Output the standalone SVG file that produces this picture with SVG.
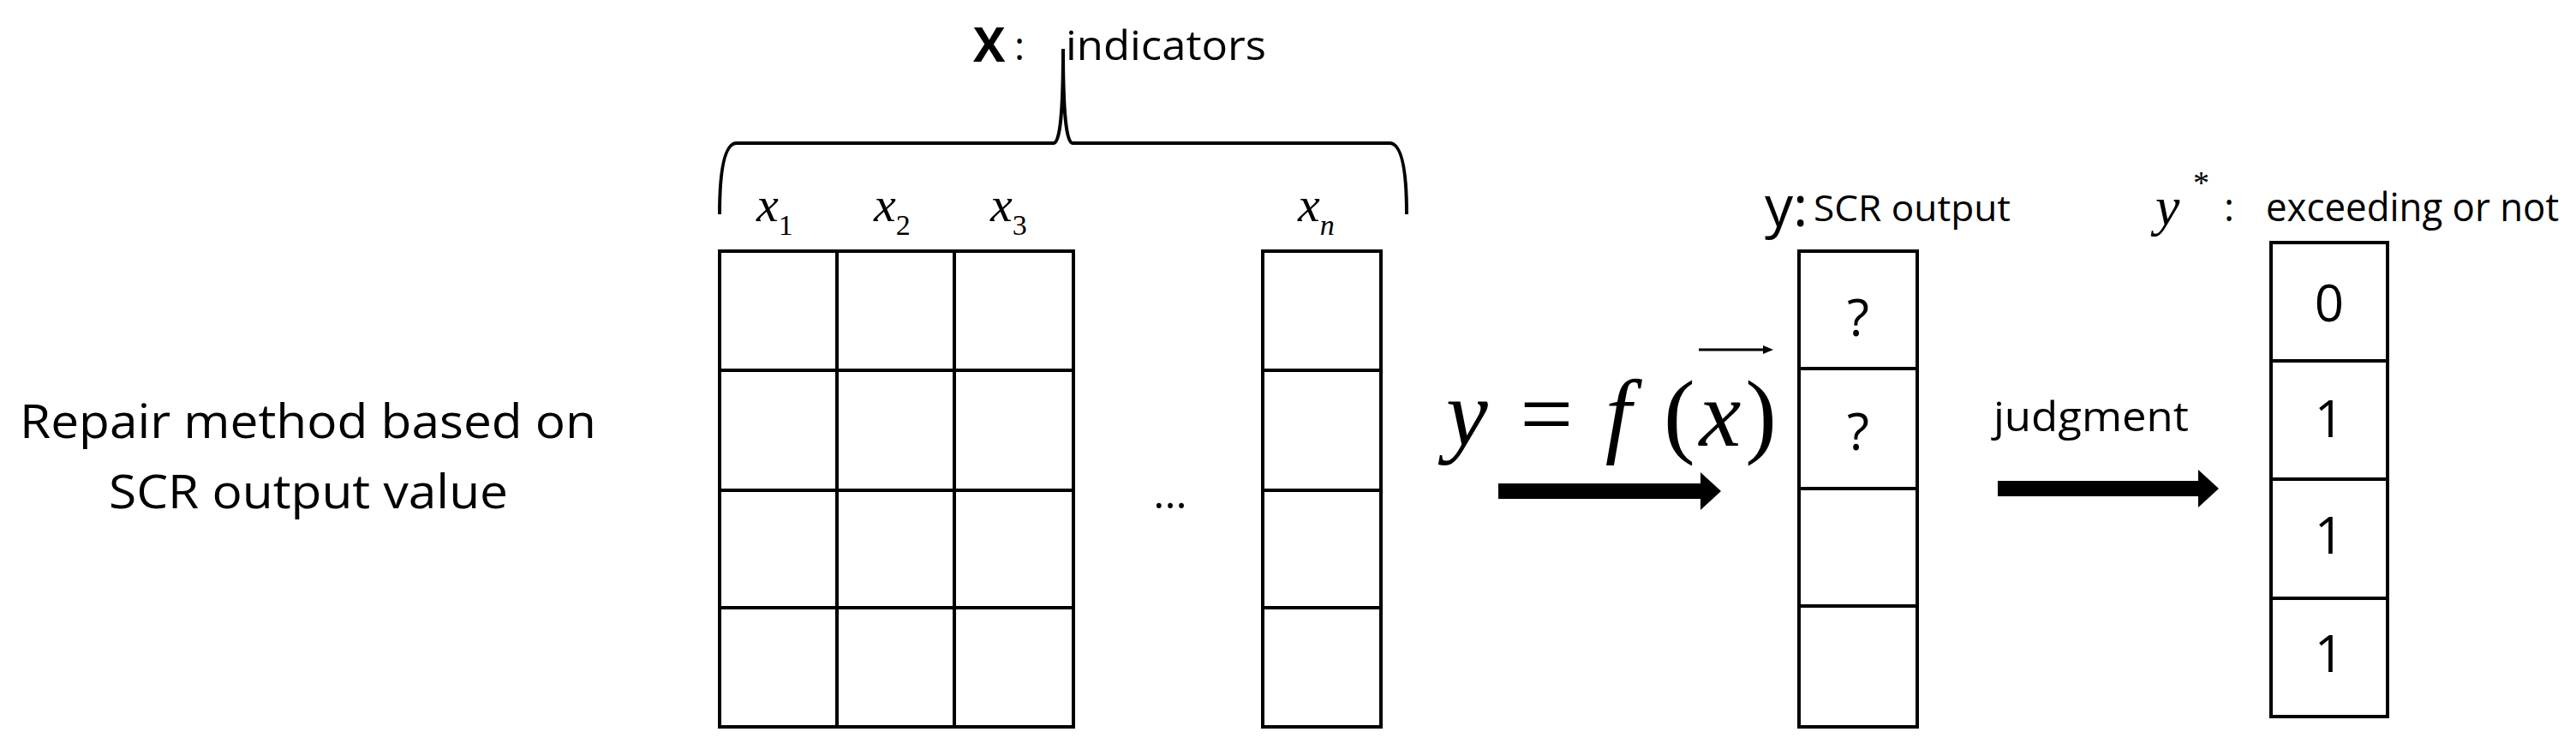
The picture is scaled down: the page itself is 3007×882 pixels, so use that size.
<svg xmlns="http://www.w3.org/2000/svg" width="3007" height="882" viewBox="0 0 3007 882">
<style>
.c{fill:none;stroke:#000;stroke-width:4}
.s{font-family:"Open Sans","Liberation Sans",sans-serif;fill:#000}
.m{font-family:"Liberation Serif",serif;font-style:italic;fill:#000}
.r{font-family:"Liberation Serif",serif;fill:#000}
</style>
<rect width="3007" height="882" fill="#fff"/>
<g id="title"><text class="s" x="23" y="511" font-size="54" textLength="673" lengthAdjust="spacingAndGlyphs">Repair method based on</text><text class="s" x="127" y="593" font-size="54" textLength="466" lengthAdjust="spacingAndGlyphs">SCR output value</text></g>
<g id="xlabel">
<text class="s" x="1136" y="72" font-size="56" font-weight="bold">X</text><text class="s" x="1184" y="70" font-size="46">:</text>
<text class="s" x="1244" y="70" font-size="48" textLength="234" lengthAdjust="spacingAndGlyphs">indicators</text>
<path class="c" d="M840,250 Q840,167 860,167 L1230,167 Q1241,167 1241,57 Q1241,167 1252,167 L1622,167 Q1642,167 1642,250" stroke-width="3.5"/>
<text class="m" x="883" y="258" font-size="58">x<tspan font-size="34" dy="16" font-style="normal">1</tspan></text>
<text class="m" x="1020" y="258" font-size="58">x<tspan font-size="34" dy="16" font-style="normal">2</tspan></text>
<text class="m" x="1156" y="258" font-size="58">x<tspan font-size="34" dy="16" font-style="normal">3</tspan></text>
<text class="m" x="1515" y="258" font-size="58">x<tspan font-size="34" dy="16">n</tspan></text>
</g>
<g id="matrix">
<rect class="c" x="840" y="293" width="413" height="555"/>
<path class="c" d="M977,293V848M1114,293V848M840,432H1253M840,572H1253M840,709H1253"/>
<rect class="c" x="1474" y="293" width="138" height="555"/>
<path class="c" d="M1474,432H1612M1474,572H1612M1474,709H1612"/>
<text class="s" x="1366" y="593" font-size="50" text-anchor="middle">...</text>
</g>
<g id="ycol">
<text class="s" x="2060" y="264" font-size="66">y:</text><text class="s" x="2117" y="258" font-size="42" textLength="230" lengthAdjust="spacingAndGlyphs">SCR output</text>
<rect class="c" x="2100" y="293" width="138" height="555"/>
<path class="c" d="M2100,430H2238M2100,570H2238M2100,707H2238"/>
<text class="s" x="2169" y="392" font-size="60" text-anchor="middle">?</text>
<text class="s" x="2169" y="525" font-size="60" text-anchor="middle">?</text>
</g>
<g id="ystar">
<text class="m" x="2516" y="262" font-size="64">y</text><text class="r" x="2560" y="226" font-size="38">*</text>
<text class="s" x="2596" y="258" font-size="46">:</text>
<text class="s" x="2645" y="258" font-size="46" textLength="342" lengthAdjust="spacingAndGlyphs">exceeding or not</text>
<rect class="c" x="2651" y="283" width="136" height="553"/>
<path class="c" d="M2651,421H2787M2651,559H2787M2651,698H2787"/>
<text class="s" x="2719" y="375" font-size="60" text-anchor="middle">0</text>
<text class="s" x="2719" y="510" font-size="60" text-anchor="middle">1</text>
<text class="s" x="2719" y="646" font-size="60" text-anchor="middle">1</text>
<text class="s" x="2719" y="784" font-size="60" text-anchor="middle">1</text>
</g>
<g id="connectors">
<path d="M1749,564H1985V551L2009,573L1985,595V582H1749Z" fill="#000"/>
<path d="M2332,561H2566V548L2590,570L2566,592V579H2332Z" fill="#000"/>
<text class="m" x="1688" y="520" font-size="110" textLength="386" lengthAdjust="spacing">y<tspan font-style="normal"> = </tspan>f<tspan font-style="normal"> (</tspan>x<tspan font-style="normal">)</tspan></text>
<path d="M1983,408H2062" stroke="#000" stroke-width="3"/><path d="M2070,408L2058,403V413Z" fill="#000"/>
<text class="s" x="2327" y="503" font-size="48" textLength="228" lengthAdjust="spacingAndGlyphs">judgment</text>
</g>
</svg>
